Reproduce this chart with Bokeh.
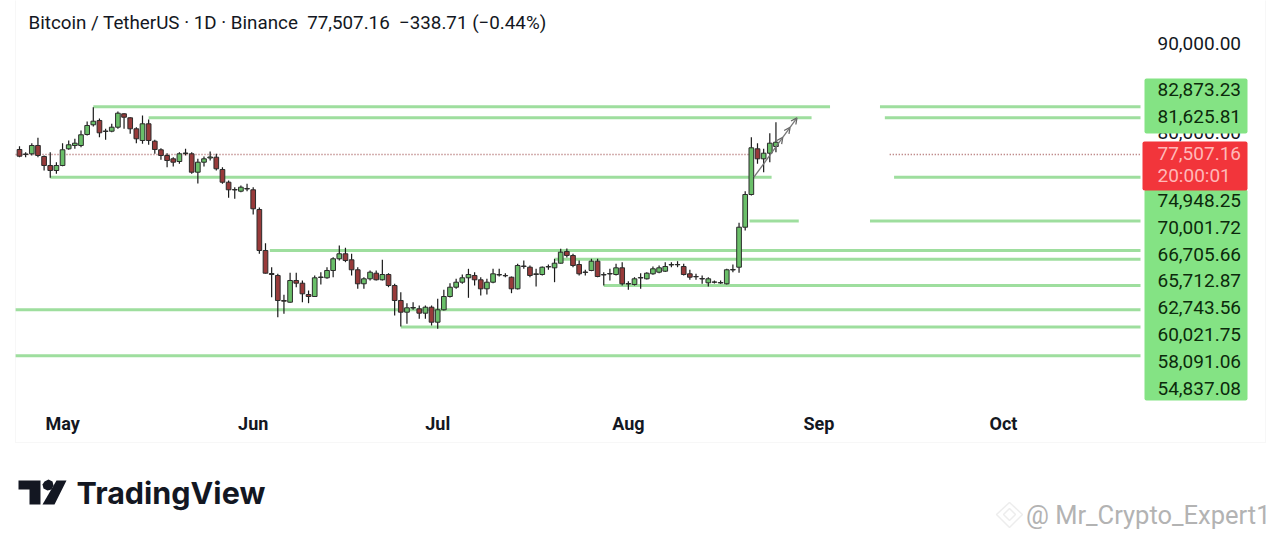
import numpy as np
import pandas as pd
from bokeh.plotting import figure
from bokeh.models import (ColumnDataSource, Range1d, Label, BoxAnnotation, PolyAnnotation,
                          Arrow, OpenHead)
from bokeh.embed import file_html
from bokeh.resources import INLINE

# ---------------- data ----------------
symbol = "Bitcoin / TetherUS"
interval = "1D"
exchange = "Binance"
last_price = 77507.16
change = -338.71
change_pct = -0.44
countdown = "20:00:01"

start_date = "2024-04-24"

opens = [78065, 77502, 77580, 78515, 77276, 76263, 75700, 76263, 78143, 78515,
         78515, 79754, 80846, 81330, 80091, 80125, 80575, 82084, 81634, 80395,
         79078, 80958, 78999, 78031, 77389, 77017, 76713, 77614, 77580, 75509,
         76635, 77108, 77198, 75813, 74383, 73561, 73369, 73617, 73528, 71310,
         66692, 64101, 63877, 61062, 60870, 63314, 63010, 61737, 61512, 63652,
         63618, 64440, 65758, 66321, 65645, 64519, 62943, 63505, 64136, 63393,
         63989, 62751, 61062, 59745, 60217, 60127, 59632, 60308, 58619, 60015,
         61512, 62559, 63122, 63618, 63877, 63393, 62379, 63122, 63933, 63877,
         63685, 62379, 64947, 64811, 63989, 63989, 64834, 64744, 65262, 66580,
         66130, 65115, 64272, 64440, 65487, 63933, 64046, 63989, 64744, 62977,
         62864, 63595, 63505, 64068, 64249, 64361, 65059, 65115, 64890, 64068,
         63764, 63539, 63054, 63145, 63032, 62943, 64497, 64811, 69315, 72997,
         78143, 77017, 77648, 78402]
highs = [78436, 77761, 78774, 79382, 77389, 77761, 76635, 78774, 79078, 79270,
         80204, 81217, 82828, 81555, 80395, 80958, 82343, 82152, 81701, 80575,
         81893, 81443, 79157, 78211, 77648, 77198, 77761, 78143, 77761, 77017,
         77276, 77839, 77580, 76072, 74574, 73820, 74011, 74199, 73820, 71535,
         67514, 64811, 64068, 61704, 64181, 64181, 63314, 62188, 63877, 64249,
         64811, 65938, 67256, 66996, 66321, 64811, 63685, 64440, 64440, 65645,
         64136, 62943, 62000, 60758, 60870, 60499, 60499, 60499, 61254, 62266,
         63010, 63505, 63989, 64631, 64249, 63685, 63505, 64631, 64631, 64136,
         63764, 65190, 65566, 65003, 64631, 64890, 65115, 65758, 66884, 66918,
         66321, 65566, 64519, 65758, 65758, 64249, 64631, 65194, 65375, 63235,
         63685, 64136, 64249, 64890, 65003, 65375, 65375, 65487, 65194, 64519,
         64068, 63877, 63685, 63314, 63314, 64631, 65115, 69822, 73369, 79450,
         78774, 78143, 79900, 81139]
lows = [77198, 77198, 77389, 77198, 75700, 74878, 75328, 76184, 78031, 78143,
        78323, 79641, 80654, 79450, 79157, 80012, 80395, 80395, 79833, 78774,
        78706, 78594, 77580, 76905, 76072, 76150, 76455, 77389, 75328, 74225,
        76150, 76826, 75700, 74203, 72627, 72514, 73257, 73369, 70746, 66321,
        64100, 61434, 59182, 59565, 60800, 62559, 60870, 60758, 61450, 62864,
        63505, 63685, 65566, 65375, 63877, 62379, 62379, 63314, 63314, 63314,
        62559, 59373, 58134, 58438, 60015, 59002, 59002, 58246, 57875, 59936,
        61400, 62379, 62943, 61366, 62751, 61625, 61737, 63010, 63764, 63685,
        61884, 62300, 64631, 63685, 62638, 63877, 64519, 63122, 65228, 65904,
        64811, 63877, 63877, 64361, 63685, 62751, 63314, 63877, 62751, 62266,
        62751, 62379, 63426, 63955, 64136, 64271, 64811, 64811, 63877, 63393,
        63393, 62943, 62638, 62977, 62943, 62864, 64249, 64192, 68944, 72885,
        76455, 75509, 76635, 77761]
closes = [77310, 77558, 78515, 77389, 76263, 75700, 76263, 78031, 78594, 78774,
          79720, 80767, 81251, 79945, 80148, 80575, 82152, 81701, 80395, 79270,
          80958, 79078, 78065, 77389, 76826, 76635, 77580, 77670, 75509, 76635,
          77017, 77220, 75892, 74383, 73528, 73505, 73820, 73674, 71389, 66692,
          64136, 63989, 61062, 60983, 63314, 63010, 61816, 61512, 63618, 63708,
          64440, 65758, 66321, 65566, 64519, 62943, 63505, 64249, 63393, 63989,
          62751, 61062, 59745, 60240, 60274, 59632, 60308, 58619, 60015, 61512,
          62559, 63122, 63618, 63989, 63393, 62379, 63122, 64068, 63989, 63843,
          62379, 65003, 64890, 63877, 64068, 64811, 64890, 65262, 66501, 66130,
          65003, 64068, 64215, 65487, 63764, 63989, 64102, 64744, 62943, 62920,
          63505, 63652, 64136, 64631, 64744, 64890, 65115, 65082, 63989, 63685,
          63730, 63483, 63505, 63122, 63088, 64519, 64553, 69315, 72997, 78256,
          77017, 77648, 78774, 78886]

# horizontal levels and the date spans where they are drawn (None = pane edge)
levels = [82873.23, 81625.81, 74948.25, 70001.72, 66705.66,
          65712.87, 62743.56, 60021.75, 58091.06, 54837.08]
level_segments = [
    [("2024-05-06", "2024-09-02 19:00"), ("2024-09-10 22:00", None)],
    [("2024-05-15", "2024-08-30 19:00"), ("2024-09-11 17:00", None)],
    [("2024-04-29", "2024-08-24 07:00"), ("2024-09-13 05:00", None)],
    [("2024-08-20 17:00", "2024-08-28 17:00"), ("2024-09-09 07:00", None)],
    [("2024-06-03 17:00", None)],
    [("2024-07-20", None)],
    [("2024-07-28", None)],
    [(None, None)],
    [("2024-06-25", None)],
    [(None, None)],
]
price_line_segments = [(None, "2024-08-20 17:00"), ("2024-09-12 12:00", None)]

# projection arrow drawing
arrow_start = ("2024-08-21 10:00", 74948.25)
arrow_end = ("2024-08-28 10:00", 81625.81)
arrow_marks = [0.67, 0.84, 1.0]

month_ticks = ["2024-05-01", "2024-06-01", "2024-07-01", "2024-08-01", "2024-09-01", "2024-10-01"]
month_labels = ["May", "Jun", "Jul", "Aug", "Sep", "Oct"]
price_ticks = [60000, 70000, 80000, 90000]

# ---------------- layout ----------------
W, H = 1272, 530
DAY = 86400000.0
PX_PER_DAY = 6.15          # horizontal scale of the pane
PX_PER_PRICE = 1 / 112.6   # vertical scale of the pane
FIRST_X = 19               # pixel of first candle
Y90 = 43                   # pixel of 90,000
PANE_L, PANE_R = 15, 1140


def ms(s):
    return pd.Timestamp(s).value / 1e6


def sx(px):
    return px


def sy(py):
    return H - py


x_start = ms(start_date) - FIRST_X / PX_PER_DAY * DAY
x_end = x_start + W / PX_PER_DAY * DAY
y_top = 90000 + Y90 / PX_PER_PRICE
y_bot = y_top - H / PX_PER_PRICE
pane_l = x_start + PANE_L / PX_PER_DAY * DAY
pane_r = x_start + PANE_R / PX_PER_DAY * DAY


def xs_(s, default):
    return default if s is None else ms(s)


p = figure(width=W, height=H, x_axis_type="datetime", x_axis_location=None, y_axis_location=None,
           output_backend="svg", toolbar_location=None, title=None,
           min_border_left=0, min_border_right=0, min_border_top=0, min_border_bottom=0,
           x_range=Range1d(x_start, x_end), y_range=Range1d(y_bot, y_top))
p.grid.visible = False
p.outline_line_color = None
p.background_fill_color = "white"
p.border_fill_color = "white"

# chart border
p.add_layout(BoxAnnotation(left=sx(15), right=sx(1265), top=sy(-2), bottom=sy(442),
                           left_units="screen", right_units="screen", top_units="screen",
                           bottom_units="screen", fill_alpha=0, line_color="#e6e6e6", line_width=1))

# level lines
lx0, lx1, ly = [], [], []
for lvl, segs in zip(levels, level_segments):
    for a, b in segs:
        lx0.append(xs_(a, pane_l)); lx1.append(xs_(b, pane_r)); ly.append(lvl)
p.segment(x0=lx0, y0=ly, x1=lx1, y1=ly, line_color="#94da94", line_width=3, line_alpha=0.9)

# current price dotted line
p.segment(x0=[xs_(a, pane_l) for a, b in price_line_segments],
          x1=[xs_(b, pane_r) for a, b in price_line_segments],
          y0=[last_price] * len(price_line_segments), y1=[last_price] * len(price_line_segments),
          line_color="#a86060", line_width=1.5, line_dash="1 2")

# candles
dates = pd.date_range(start_date, periods=len(opens), freq="D")
o = np.array(opens, float); c = np.array(closes, float)
src = ColumnDataSource(dict(
    date=[d.value / 1e6 for d in dates], high=highs, low=lows,
    top=np.maximum(o, c), bottom=np.minimum(o, c),
    fill=["#6abf69" if cc >= oo else "#983a3a" for oo, cc in zip(opens, closes)]))
p.segment("date", "high", "date", "low", source=src, line_color="#1a1a1a", line_width=1.2)
p.vbar(x="date", top="top", bottom="bottom", width=0.76 * DAY, source=src,
       fill_color="fill", line_color="#2b2b2b", line_width=1)

# projection arrow
ax0, ay0 = ms(arrow_start[0]), arrow_start[1]
ax1, ay1 = ms(arrow_end[0]), arrow_end[1]
prev = (ax0, ay0)
for f in arrow_marks:
    pt = (ax0 + (ax1 - ax0) * f, ay0 + (ay1 - ay0) * f)
    p.add_layout(Arrow(end=OpenHead(size=6, line_color="#666666", line_width=1.3),
                       x_start=prev[0], y_start=prev[1], x_end=pt[0], y_end=pt[1],
                       line_color="#777777", line_width=1.3))
    prev = pt

# time scale labels
for t, lab in zip(month_ticks, month_labels):
    p.add_layout(Label(x=ms(t), y=sy(423), x_units="data", y_units="screen", text=lab,
                       text_font="Roboto", text_font_style="bold", text_font_size="18px",
                       text_color="#131722", text_baseline="middle", text_align="center"))

# price scale tick labels
for t in price_ticks:
    p.add_layout(Label(x=sx(1157), y=t, x_units="screen", y_units="data",
                       text=f"{t:,.2f}", text_font="Roboto", text_font_size="19px",
                       text_color="#131722", text_baseline="middle", text_align="left"))

# price scale label column
GREEN = "#84e384"


def box(l, r, t, b, color):
    return BoxAnnotation(left=sx(l), right=sx(r), top=sy(t), bottom=sy(b),
                         left_units="screen", right_units="screen", top_units="screen",
                         bottom_units="screen", fill_color=color, fill_alpha=1, line_color=None,
                         border_radius=2)


p.add_layout(box(1144, 1247, 78, 133, GREEN))
p.add_layout(box(1144, 1247, 189, 400, GREEN))
p.add_layout(box(1142, 1247, 141, 190, "#f2353b"))

ROW = 26.8
for k, lvl in enumerate(levels):
    ry = 89 + ROW * k if k < 2 else 200 + ROW * (k - 2)
    p.add_layout(Label(x=sx(1157), y=sy(ry), x_units="screen", y_units="screen",
                       text=f"{lvl:,.2f}", text_font="Roboto", text_font_size="19px",
                       text_color="#0c2a0c", text_baseline="middle", text_align="left"))
p.add_layout(Label(x=sx(1157), y=sy(153), x_units="screen", y_units="screen",
                   text=f"{last_price:,.2f}", text_font="Roboto", text_font_size="19px",
                   text_color="#ffb8b8", text_baseline="middle", text_align="left"))
p.add_layout(Label(x=sx(1157), y=sy(175), x_units="screen", y_units="screen",
                   text=countdown, text_font="Roboto", text_font_size="19px",
                   text_color="#ffb8b8", text_baseline="middle", text_align="left"))

# title
title = (f"{symbol} \u00b7 {interval} \u00b7 {exchange}\u00a0\u00a0{last_price:,.2f}\u00a0\u00a0"
         f"\u2212{abs(change):,.2f} (\u2212{abs(change_pct):.2f}%)")
p.add_layout(Label(x=sx(28), y=sy(22), x_units="screen", y_units="screen", text=title,
                   text_font="Roboto", text_font_size="18.8px", text_color="#131722",
                   text_baseline="middle", text_align="left"))


# TradingView logo
def poly(pts, **kw):
    return PolyAnnotation(xs=[sx(a) for a, b in pts], ys=[sy(b) for a, b in pts],
                          xs_units="screen", ys_units="screen", **kw)


p.add_layout(poly([(18, 480), (40, 480), (40, 504), (29, 504), (29, 489), (18, 489)],
                  fill_color="#131722", fill_alpha=1, line_color=None))
p.add_layout(poly([(44, 481), (48, 479), (52, 481), (53, 485), (51, 489), (47, 490), (43, 488), (42, 484)],
                  fill_color="#131722", fill_alpha=1, line_color=None))
p.add_layout(poly([(42, 504), (54, 504), (66, 480), (56, 480)],
                  fill_color="#131722", fill_alpha=1, line_color=None))
p.add_layout(Label(x=sx(76), y=sy(492), x_units="screen", y_units="screen", text="TradingView",
                   text_font="Inter", text_font_style="bold", text_font_size="30.5px",
                   text_color="#131722", text_baseline="middle", text_align="left"))

# watermark
p.add_layout(poly([(1009, 502), (1022, 514), (1009, 527), (996, 514)],
                  fill_alpha=0, line_color="#c4c4c4", line_width=1.5))
p.add_layout(poly([(1009, 508), (1015, 514), (1009, 520), (1003, 514)],
                  fill_alpha=0, line_color="#c4c4c4", line_width=1.5))
p.add_layout(Label(x=sx(1270), y=sy(514), x_units="screen", y_units="screen",
                   text="@ Mr_Crypto_Expert1", text_font="Roboto", text_font_size="25.5px",
                   text_color="#b3b3b3", text_baseline="middle", text_align="right"))

open("out.html", "w").write(file_html(p, INLINE))
